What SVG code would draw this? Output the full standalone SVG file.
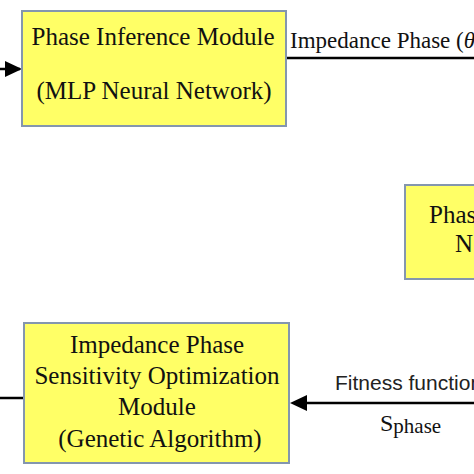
<svg xmlns="http://www.w3.org/2000/svg" width="474" height="474" viewBox="0 0 474 474">
<style>
.box{fill:#FFFF66;stroke:#8496AE;stroke-width:2}
.t{font-family:"Liberation Serif","Times New Roman",serif;font-size:25px;fill:#111;text-anchor:middle}
.lbl{font-family:"Liberation Serif","Times New Roman",serif;font-size:23px;fill:#111}
.nt{font-family:"Liberation Serif","Times New Roman",serif;font-size:25px;fill:#111}
.sans{font-family:"Liberation Sans",Arial,sans-serif;font-size:21px;fill:#222}
.ln{stroke:#000;stroke-width:2.5;fill:none}
</style>
<rect width="474" height="474" fill="#fff"/>
<g id="connectors">
<line class="ln" x1="0" y1="69" x2="20" y2="69"/>
<path d="M22,69 L5,61 L5,77 z" fill="#000"/>
<line class="ln" x1="286" y1="58" x2="474" y2="58"/>
<line class="ln" x1="0" y1="398" x2="24" y2="398"/>
<line class="ln" x1="474" y1="403" x2="300" y2="403"/>
<path d="M290,403 L307,395 L307,411 z" fill="#000"/>
</g>
<g id="labels">
<text class="lbl" x="290" y="48">Impedance Phase (<tspan font-style="italic">θ</tspan>)</text>
<text class="sans" x="335" y="390">Fitness function</text>
<text class="lbl" x="380" y="431"><tspan style="font-size:24px">S</tspan><tspan style="font-size:21px" dy="2">phase</tspan></text>
</g>
<g id="phase-inference">
<rect class="box" x="22" y="11" width="264" height="115"/>
<text class="t" x="153" y="45">Phase Inference Module</text>
<text class="t" x="154" y="99">(MLP Neural Network)</text>
</g>
<g id="phase-node-right">
<rect class="box" x="405" y="185" width="80" height="94"/>
<text class="nt" x="429" y="223">Phase</text>
<text class="nt" x="455" y="252">N</text>
</g>
<g id="optimization">
<rect class="box" x="24" y="323" width="265" height="140"/>
<text class="t" x="157" y="353">Impedance Phase</text>
<text class="t" x="157" y="384">Sensitivity Optimization</text>
<text class="t" x="157" y="415">Module</text>
<text class="t" x="160" y="447">(Genetic Algorithm)</text>
</g>
</svg>
